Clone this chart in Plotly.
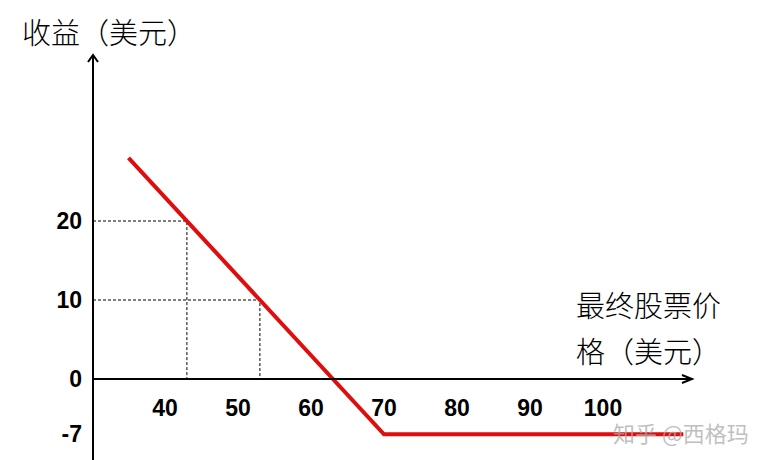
import plotly.graph_objects as go

# ---- data ----
prices = [35, 70, 111]          # final stock price (USD)
payoffs = [28, -7, -7]          # payoff (USD)
marked_prices = [43, 53]        # guide points
marked_payoffs = [20, 10]
x_ticks = [40, 50, 60, 70, 80, 90, 100]
y_ticks = [-7, 0, 10, 20]
y_tick_text = ["-7", "0", "10", "20"]

W, H = 774, 460
# axis scales (pixels per unit) and origin
XB, XA = 7.3, -127.0   # px = XA + XB*price
YB, Y0 = 7.9, 379.0    # py = Y0 - YB*payoff
x_range = [-XA / XB, (W - XA) / XB]
y_range = [(Y0 - H) / YB, Y0 / YB]
yaxis_x = (93 - XA) / XB
xarrow_tip = (692 - XA) / XB
yarrow_tip = (Y0 - 55) / YB

fig = go.Figure()

# dashed guide lines
for p, v in zip(marked_prices, marked_payoffs):
    fig.add_trace(go.Scatter(
        x=[yaxis_x, p, p], y=[v, v, 0], mode="lines",
        line=dict(color="black", width=1, dash="3px,2px"),
        hoverinfo="skip", showlegend=False))

# payoff line
fig.add_trace(go.Scatter(
    x=prices, y=payoffs, mode="lines",
    line=dict(color="#e00d0d", width=4),
    showlegend=False))

shapes = [
    dict(type="line", xref="x", yref="y", x0=yaxis_x, x1=yaxis_x,
         y0=y_range[0], y1=yarrow_tip, line=dict(color="black", width=2)),
    dict(type="line", xref="x", yref="y", x0=yaxis_x, x1=xarrow_tip,
         y0=0, y1=0, line=dict(color="black", width=2)),
    dict(type="path", xref="x", yref="y", xsizemode="pixel", ysizemode="pixel",
         xanchor=yaxis_x, yanchor=yarrow_tip, path="M -5,-7 L 0,0 L 5,-7",
         line=dict(color="black", width=2)),
    dict(type="path", xref="x", yref="y", xsizemode="pixel", ysizemode="pixel",
         xanchor=xarrow_tip, yanchor=0, path="M -10,4 L 0,0 L -10,-4",
         line=dict(color="black", width=2)),
]

cjk = "Noto Sans CJK SC"
title_font = dict(family=cjk, size=29, color="black", weight=300)
annotations = [
    dict(text="收益（美元）", xref="paper", yref="paper", x=20 / W, y=1 - 31 / H,
         xanchor="left", yanchor="middle", showarrow=False, font=title_font),
    dict(text="最终股票价", xref="paper", yref="paper", x=575 / W, y=1 - 326 / H,
         xanchor="left", yanchor="bottom", showarrow=False, font=title_font,
         borderpad=0),
    dict(text="格（美元）", xref="paper", yref="paper", x=575 / W, y=1 - 328 / H,
         xanchor="left", yanchor="top", showarrow=False, font=title_font,
         borderpad=0),
    dict(text="知乎 @西格玛", xref="paper", yref="paper", x=611 / W, y=1 - 432 / H,
         xanchor="left", yanchor="middle", showarrow=False,
         font=dict(family=cjk, size=22, color="rgba(170,170,170,0.75)")),
]

fig.update_layout(
    width=W, height=H, margin=dict(l=0, r=0, t=0, b=0),
    paper_bgcolor="white", plot_bgcolor="white", template="none",
    shapes=shapes, annotations=annotations, showlegend=False,
    xaxis=dict(range=x_range, anchor="free", position=(H - Y0) / H,
               tickvals=x_ticks, ticks="", showline=False, showgrid=False,
               zeroline=False, automargin=False, ticklabelstandoff=13,
               tickfont=dict(family="Liberation Sans", size=23, color="black", weight="bold")),
    yaxis=dict(range=y_range, anchor="free", position=93 / W,
               tickvals=y_ticks, ticktext=y_tick_text, ticks="", showline=False,
               showgrid=False, zeroline=False, automargin=False, ticklabelstandoff=11,
               tickfont=dict(family="Liberation Sans", size=23, color="black", weight="bold")),
)

fig.write_html("out.html")
